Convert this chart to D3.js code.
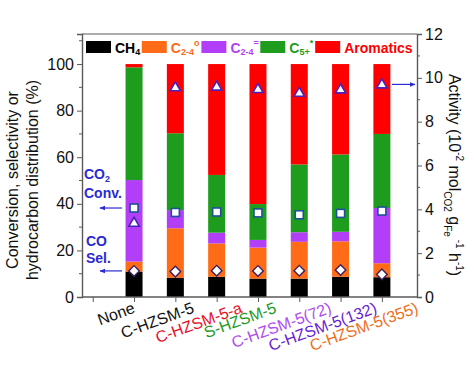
<!DOCTYPE html>
<html>
<head>
<meta charset="utf-8">
<script src="https://cdn.jsdelivr.net/npm/d3@7"></script>
<style>
  body { margin: 0; background: #fff; }
  svg { font-family: "Liberation Sans", Arial, sans-serif; }
</style>
</head>
<body>
<svg id="chart" width="474" height="366"></svg>
<script>
// catalysts along the x axis
var categories = ["None", "C-HZSM-5", "C-HZSM-5-a", "S-HZSM-5", "C-HZSM-5(72)", "C-HZSM-5(132)", "C-HZSM-5(355)"];
var labelColors = ["#111", "#111", "#e8102a", "#1f9a1f", "#b04cf2", "#6a1fd0", "#f0701e"];

// hydrocarbon distribution (%)
var ch4 = [10.9, 8.3, 8.7, 7.9, 7.9, 8.7, 8.5];
var c24o = [4.3, 21.2, 14.3, 13.3, 15.8, 15.2, 6.0];
var c24e = [35.0, 7.8, 4.6, 3.3, 4.1, 4.1, 23.7];
var c5p = [48.4, 33.0, 24.8, 15.4, 29.1, 33.2, 31.8];
var arom = [1.4, 29.7, 47.6, 60.1, 43.1, 38.8, 30.0];

// markers
var conversion = [38.2, 36.3, 36.5, 36.1, 35.3, 35.9, 36.9];   // left axis
var coSel = [11.2, 10.9, 11.3, 11.2, 11.3, 11.6, 9.7];          // left axis
var activity = [3.39, 9.57, 9.60, 9.49, 9.32, 9.47, 9.70];      // right axis

var leftTicks = [0, 20, 40, 60, 80, 100];
var rightTicks = [0, 2, 4, 6, 8, 10, 12];

var keys = ["ch4", "c24o", "c24e", "c5p", "arom"];
var colors = { ch4: "#000000", c24o: "#ff6b17", c24e: "#b23ff7", c5p: "#1e9c1e", arom: "#ff0000" };

var svg = d3.select("#chart");
var L = 82, R = 417, T = 34, B = 297;
var axisColor = "#5a5a5a";

var x = d3.scaleLinear().domain([-0.26, 7.85]).range([L, R]);
var yL = d3.scaleLinear().domain([0, 112.9]).range([B, T]);
var yR = d3.scaleLinear().domain([0, 12]).range([B, T]);

var rows = categories.map(function (c, i) {
  return { cat: c, i: i, ch4: ch4[i], c24o: c24o[i], c24e: c24e[i], c5p: c5p[i], arom: arom[i] };
});
var series = d3.stack().keys(keys)(rows);

var barW = 17;
svg.append("g").selectAll("g").data(series).enter().append("g")
  .attr("fill", function (s) { return colors[s.key]; })
  .selectAll("rect").data(function (s) { return s; }).enter().append("rect")
  .attr("x", function (d) { return x(d.data.i + 1) - barW / 2; })
  .attr("y", function (d) { return yL(d[1]); })
  .attr("width", barW)
  .attr("height", function (d) { return yL(d[0]) - yL(d[1]); });

// frame top line
svg.append("line").attr("x1", L).attr("x2", R).attr("y1", T).attr("y2", T)
  .attr("stroke", axisColor).attr("stroke-width", 1.2);

// left axis
var gl = svg.append("g").attr("transform", "translate(" + L + ",0)");
gl.call(d3.axisLeft(yL).tickValues(leftTicks).tickSize(5).tickPadding(3));
gl.selectAll(".minor").data([10, 30, 50, 70, 90, 110]).enter().append("line")
  .attr("x1", 0).attr("x2", -3).attr("y1", yL).attr("y2", yL).attr("stroke", axisColor);

// right axis
var gr = svg.append("g").attr("transform", "translate(" + R + ",0)");
gr.call(d3.axisRight(yR).tickValues(rightTicks).tickSize(5).tickPadding(3));
gr.selectAll(".minor").data([1, 3, 5, 7, 9, 11]).enter().append("line")
  .attr("x1", 0).attr("x2", 3).attr("y1", yR).attr("y2", yR).attr("stroke", axisColor);

// bottom axis
var gb = svg.append("g").attr("transform", "translate(0," + B + ")");
gb.call(d3.axisBottom(x).tickValues(d3.range(0, 8)).tickSize(5).tickFormat(""));

[gl, gr, gb].forEach(function (g) {
  g.select(".domain").attr("stroke", axisColor).attr("stroke-width", 1.4);
  g.selectAll(".tick line").attr("stroke", axisColor);
  g.selectAll("text").attr("font-size", 16).attr("fill", "#111")
    .attr("font-family", "Liberation Sans, Arial, sans-serif");
});
gb.select(".domain").attr("d", "M" + L + ",0H" + R);

// x labels, rotated
var xl = svg.append("g").selectAll("text").data(categories).enter().append("text")
  .attr("font-size", 16)
  .attr("fill", function (d, i) { return labelColors[i]; })
  .attr("text-anchor", "middle")
  .text(function (d) { return d; });
xl.each(function (d, i) {
  var w = this.getComputedTextLength();
  var a = 20 * Math.PI / 180;
  var cx = x(i + 1) - 18;
  var cy = 300 + (w * Math.sin(a) + 15 * Math.cos(a)) / 2;
  d3.select(this).attr("transform", "translate(" + cx + "," + cy + ") rotate(-20)").attr("dy", "0.35em");
});

// markers
var mk = svg.append("g");
var markStroke = "#4a22b8";
mk.selectAll(".sq").data(conversion).enter().append("rect")
  .attr("x", function (d, i) { return x(i + 1) - 4; })
  .attr("y", function (d) { return yL(d) - 4; })
  .attr("width", 8).attr("height", 8)
  .attr("fill", "#fff").attr("stroke", "#1f4f9a").attr("stroke-width", 1.6);
mk.selectAll(".tri").data(activity).enter().append("path")
  .attr("d", d3.symbol().type(d3.symbolTriangle).size(46))
  .attr("transform", function (d, i) { return "translate(" + x(i + 1) + "," + (yR(d) + 0.5) + ")"; })
  .attr("fill", "#fff").attr("stroke", markStroke).attr("stroke-width", 1.6);
mk.selectAll(".dia").data(coSel).enter().append("path")
  .attr("d", d3.symbol().type(d3.symbolSquare).size(56))
  .attr("transform", function (d, i) { return "translate(" + x(i + 1) + "," + yL(d) + ") rotate(45)"; })
  .attr("fill", "#fff").attr("stroke", "#3a2060").attr("stroke-width", 1.4);

// legend
var leg = svg.append("g").attr("font-size", 14).attr("font-weight", "bold");
var legItems = [
  { key: "ch4", color: "#000", parts: [["CH", 0], ["4", 1]] },
  { key: "c24o", color: "#ff6b17", parts: [["C", 0], ["2-4", 1], ["o", 2]] },
  { key: "c24e", color: "#b23ff7", parts: [["C", 0], ["2-4", 1], ["=", 2]] },
  { key: "c5p", color: "#1e9c1e", parts: [["C", 0], ["5+", 1], ["*", 2]] },
  { key: "arom", color: "#ff0000", parts: [["Aromatics", 0]] }
];
var lx = 86;
legItems.forEach(function (it) {
  leg.append("rect").attr("x", lx).attr("y", 41).attr("width", 25).attr("height", 12).attr("fill", colors[it.key]);
  lx += 29;
  var t = leg.append("text").attr("x", lx).attr("y", 52.5).attr("fill", it.color);
  var shift = 0;
  it.parts.forEach(function (p) {
    var s = t.append("tspan").text(p[0]);
    if (p[1] === 1) { s.attr("font-size", 9).attr("dy", 2 - shift); shift = 2; }
    else if (p[1] === 2) { s.attr("font-size", 9).attr("dy", -7 - shift); shift = -7; }
  });
  var bb = t.node().getBBox();
  lx = bb.x + bb.width + 1.5;
});

// annotations
var ann = svg.append("g").attr("fill", "#2a2ad2").attr("font-size", 14).attr("font-weight", "bold");
var t1 = ann.append("text").attr("x", 84).attr("y", 179);
t1.append("tspan").text("CO");
t1.append("tspan").text("2").attr("font-size", 9).attr("dy", 3);
ann.append("text").attr("x", 84).attr("y", 198).text("Conv.");
ann.append("text").attr("x", 86).attr("y", 246).text("CO");
ann.append("text").attr("x", 86).attr("y", 263).text("Sel.");

svg.append("defs").append("marker").attr("id", "ah").attr("viewBox", "0 0 10 10")
  .attr("refX", 9).attr("refY", 5).attr("markerWidth", 5).attr("markerHeight", 5).attr("orient", "auto")
  .append("path").attr("d", "M0,1L10,5L0,9Z").attr("fill", "#2a2ad2");

function arrow(x1, x2, y) {
  svg.append("line").attr("x1", x1).attr("x2", x2).attr("y1", y).attr("y2", y)
    .attr("stroke", "#2a2ad2").attr("stroke-width", 1.2).attr("marker-end", "url(#ah)");
}
arrow(122, 100, yL(conversion[0]));
arrow(122, 100, yL(coSel[0]));
arrow(x(7) + 10, R - 2, yR(activity[6]));

// axis titles
var lt = svg.append("text").attr("font-size", 16).attr("fill", "#111").attr("text-anchor", "middle")
  .attr("transform", "translate(18,180) rotate(-90)");
lt.append("tspan").attr("x", 0).attr("y", 0).text("Conversion, selectivity or");
lt.append("tspan").attr("x", 0).attr("y", 20).text("hydrocarbon distribution (%)");

var rt = svg.append("text").attr("font-size", 16).attr("fill", "#111").attr("text-anchor", "middle")
  .attr("transform", "translate(449,175) rotate(90)");
rt.append("tspan").text("Activity (10");
rt.append("tspan").text("-2").attr("font-size", 10).attr("dy", -7);
rt.append("tspan").text(" mol").attr("dy", 7);
rt.append("tspan").text("CO2").attr("font-size", 10).attr("dy", 5);
rt.append("tspan").text(" g").attr("dy", -5);
rt.append("tspan").text("Fe").attr("font-size", 10).attr("dy", 5);
rt.append("tspan").text(" -1").attr("font-size", 10).attr("dy", -12);
rt.append("tspan").text(" h").attr("dy", 7);
rt.append("tspan").text("-1").attr("font-size", 10).attr("dy", -7);
rt.append("tspan").text(")").attr("dy", 7);
</script>
</body>
</html>
